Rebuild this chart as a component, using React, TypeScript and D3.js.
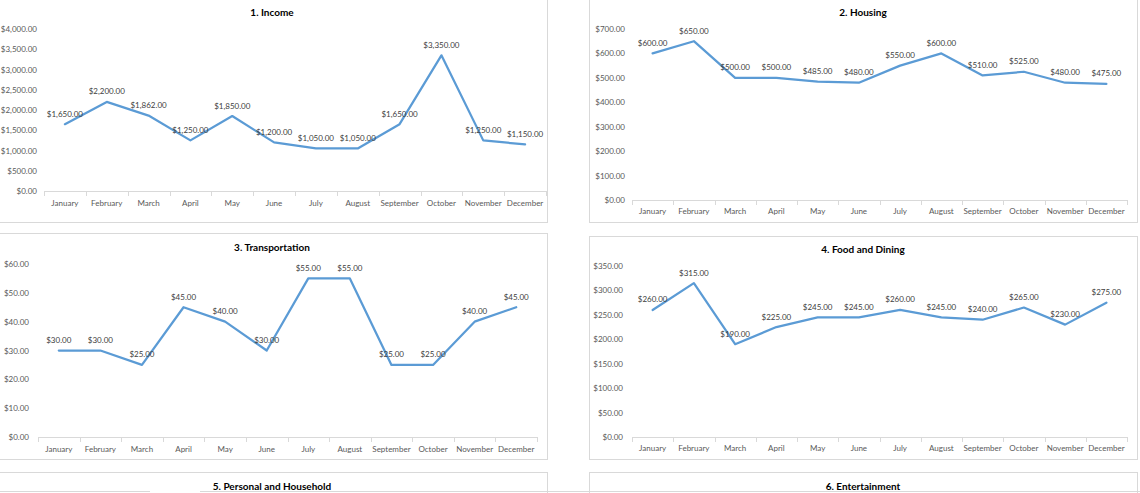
import React from "react";
import * as d3 from "d3";

const MONTHS = ["January", "February", "March", "April", "May", "June", "July", "August", "September", "October", "November", "December"];

const INCOME = [1650, 2200, 1862, 1250, 1850, 1200, 1050, 1050, 1650, 3350, 1250, 1150];
const HOUSING = [600, 650, 500, 500, 485, 480, 550, 600, 510, 525, 480, 475];
const TRANSPORT = [30, 30, 25, 45, 40, 30, 55, 55, 25, 25, 40, 45];
const FOOD = [260, 315, 190, 225, 245, 245, 260, 245, 240, 265, 230, 275];

const INCOME_TICKS = [0, 500, 1000, 1500, 2000, 2500, 3000, 3500, 4000];
const HOUSING_TICKS = [0, 100, 200, 300, 400, 500, 600, 700];
const TRANSPORT_TICKS = [0, 10, 20, 30, 40, 50, 60];
const FOOD_TICKS = [0, 50, 100, 150, 200, 250, 300, 350];

const TITLES = ["1. Income", "2. Housing", "3. Transportation", "4. Food and Dining", "5. Personal and Household", "6. Entertainment"];

const FONT = "Lato, 'Open Sans', sans-serif";
const fmt = d3.format("$,.2f");

type Geo = {
  box: [number, number, number, number]; // x, y, w, h
  x0: number; x1: number; yTop: number; yBottom: number;
  yLabelX: number; xLabelY: number; titleY: number;
};

function Panel({ title, values, ticks, geo }: { title: string; values: number[]; ticks: number[]; geo: Geo }) {
  const x = d3.scaleBand<string>().domain(MONTHS).range([geo.x0, geo.x1]).paddingInner(0).paddingOuter(0);
  const y = d3.scaleLinear().domain([0, ticks[ticks.length - 1]]).range([geo.yBottom, geo.yTop]);
  const cx = (m: string) => (x(m) as number) + x.bandwidth() / 2;
  const line = d3.line<number>().x((_, i) => cx(MONTHS[i])).y((v) => y(v));
  const [bx, by, bw, bh] = geo.box;
  const tickXs = MONTHS.map((m) => x(m) as number).concat([geo.x1]);
  return (
    <g>
      <rect x={bx + 0.5} y={by + 0.5} width={bw} height={bh} fill="#fff" stroke="#D9D9D9" strokeWidth={1} />
      <text x={bx + bw / 2} y={geo.titleY} textAnchor="middle" dominantBaseline="central" fontFamily={FONT} fontWeight={700} fontSize={10} fill="#000">{title}</text>
      {ticks.map((t) => (
        <text key={t} x={geo.yLabelX} y={y(t)} textAnchor="end" dominantBaseline="central" fontFamily={FONT} fontSize={8} fill="#595959">{fmt(t)}</text>
      ))}
      <line x1={geo.x0} x2={geo.x1} y1={geo.yBottom + 0.5} y2={geo.yBottom + 0.5} stroke="#D9D9D9" strokeWidth={1} />
      {tickXs.map((tx, i) => (
        <line key={i} x1={Math.round(tx) + 0.5} x2={Math.round(tx) + 0.5} y1={geo.yBottom} y2={geo.yBottom + 5} stroke="#D9D9D9" strokeWidth={1} />
      ))}
      {MONTHS.map((m) => (
        <text key={m} x={cx(m)} y={geo.xLabelY} textAnchor="middle" dominantBaseline="central" fontFamily={FONT} fontSize={8} fill="#595959">{m}</text>
      ))}
      <path d={line(values) || ""} fill="none" stroke="#5B9BD5" strokeWidth={2.25} strokeLinejoin="round" strokeLinecap="round" />
      {values.map((v, i) => (
        <text key={i} x={cx(MONTHS[i])} y={y(v) - 10.5} textAnchor="middle" dominantBaseline="central" fontFamily={FONT} fontSize={8} fill="#404040">{fmt(v)}</text>
      ))}
    </g>
  );
}

function EmptyPanel({ title, box, titleY }: { title: string; box: [number, number, number, number]; titleY: number }) {
  const [bx, by, bw, bh] = box;
  return (
    <g>
      <rect x={bx + 0.5} y={by + 0.5} width={bw} height={bh} fill="#fff" stroke="#D9D9D9" strokeWidth={1} />
      <text x={bx + bw / 2} y={titleY} textAnchor="middle" dominantBaseline="central" fontFamily={FONT} fontWeight={700} fontSize={10} fill="#000">{title}</text>
    </g>
  );
}

const G1: Geo = { box: [-3, -3, 550, 225], x0: 44, x1: 546, yTop: 29, yBottom: 191, yLabelX: 37, xLabelY: 203, titleY: 12 };
const G2: Geo = { box: [589, -3, 548, 225], x0: 632, x1: 1127, yTop: 29, yBottom: 200, yLabelX: 625, xLabelY: 211, titleY: 12 };
const G3: Geo = { box: [-3, 233, 550, 226], x0: 38, x1: 537, yTop: 264, yBottom: 437, yLabelX: 29, xLabelY: 449, titleY: 247 };
const G4: Geo = { box: [589, 236, 548, 223], x0: 632, x1: 1127, yTop: 266, yBottom: 437, yLabelX: 623, xLabelY: 448, titleY: 249 };

export default function App() {
  return (
    <div style={{ position: "absolute", left: 0, top: 0, width: 1140, height: 493, background: "#fff" }}>
      <svg width={1140} height={493} style={{ display: "block" }}>
        <rect x={0} y={0} width={1140} height={493} fill="#fff" />
        <Panel title={TITLES[0]} values={INCOME} ticks={INCOME_TICKS} geo={G1} />
        <Panel title={TITLES[1]} values={HOUSING} ticks={HOUSING_TICKS} geo={G2} />
        <Panel title={TITLES[2]} values={TRANSPORT} ticks={TRANSPORT_TICKS} geo={G3} />
        <Panel title={TITLES[3]} values={FOOD} ticks={FOOD_TICKS} geo={G4} />
        <EmptyPanel title={TITLES[4]} box={[-3, 472, 550, 60]} titleY={486} />
        <EmptyPanel title={TITLES[5]} box={[589, 472, 548, 60]} titleY={486} />
        <line x1={0} x2={150} y1={491.5} y2={491.5} stroke="#D9D9D9" strokeWidth={1} />
        <line x1={200} x2={1140} y1={491.5} y2={491.5} stroke="#D9D9D9" strokeWidth={1} />
      </svg>
    </div>
  );
}
